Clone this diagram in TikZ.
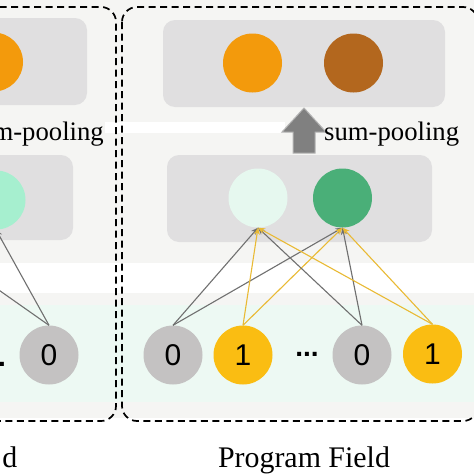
\documentclass[tikz,border=0pt]{standalone}
\usepackage{fontspec}
\setmainfont{Liberation Serif}
\newfontfamily\digitfont{Liberation Sans}
\usetikzlibrary{arrows.meta}
\definecolor{bggray}{HTML}{F5F5F3}
\definecolor{boxgray}{HTML}{E0DFE0}
\definecolor{mintband}{HTML}{EDF9F3}
\definecolor{orangec}{HTML}{F39A0C}
\definecolor{brownc}{HTML}{B3671E}
\definecolor{palemint}{HTML}{E6F8EF}
\definecolor{greenc}{HTML}{4AAF78}
\definecolor{leftmint}{HTML}{A6EFCF}
\definecolor{graycirc}{HTML}{C4C2C2}
\definecolor{yellowc}{HTML}{FABD12}
\definecolor{linegray}{HTML}{707070}
\definecolor{lineyellow}{HTML}{E9BA34}
\definecolor{arrowgray}{HTML}{808080}
\definecolor{arrowedge}{HTML}{B4B4B4}
\tikzset{
  circ/.style={circle, minimum size=59pt, inner sep=0pt, draw=none},
  digit/.style={circ, font=\digitfont\fontsize{30}{32}\selectfont},
  panelbox/.style={draw=black, line width=1.7pt, dash pattern=on 7pt off 4.5pt, rounded corners=15pt},
  grayrect/.style={fill=boxgray, rounded corners=12pt, draw=none},
  serifl/.style={font=\fontsize{26.7}{30}\selectfont, inner sep=0pt},
  titlel/.style={font=\fontsize{29.9}{32}\selectfont, inner sep=0pt},
  graylink/.style={draw=linegray, line width=1.1pt, -{Stealth[length=7pt,width=6pt]}},
  yellowlink/.style={draw=lineyellow, line width=1.1pt, -{Stealth[length=7pt,width=6pt]}},
}
\begin{document}
\begin{tikzpicture}[x=1pt,y=-1pt]
\useasboundingbox (0,0) rectangle (474,474);
\clip (0,0) rectangle (474,474);
% background bands
\fill[white] (0,0) rectangle (474,474);
\fill[bggray] (0,0) rectangle (474,263);
\fill[white] (105,122) rectangle (285,133);
\fill[white] (0,263) rectangle (474,293);
\fill[bggray] (0,293) rectangle (474,418);
\fill[mintband] (0,305) rectangle (474,402);
% gray inner boxes
\fill[grayrect] (-200,18) rectangle (87,105);
\fill[grayrect] (-200,155) rectangle (73,240);
\fill[grayrect] (163,20) rectangle (445,107);
\fill[grayrect] (167,155) rectangle (432,242);
% dashed panels
\draw[panelbox] (-200,7) rectangle (116,421);
\draw[panelbox] (122,7) rectangle (478,421);
% top circles
\node[circ, fill=orangec] (lorange) at (-6.5,62) {};
\node[circ, fill=orangec] (rorange) at (252.5,63) {};
\node[circ, fill=brownc] (rbrown) at (353.5,63) {};
% middle circles
\node[circ, fill=leftmint] (lmint) at (-4,200) {};
\node[circ, fill=palemint] (rmint) at (258,198) {};
\node[circ, fill=greenc] (rgreen) at (342.5,198) {};
% bottom circles
\node[digit, fill=graycirc] (lzero) at (49,355) {0};
\node[digit, fill=graycirc] (zeroa) at (173,355) {0};
\node[digit, fill=yellowc] (onea) at (243,355) {1};
\node[digit, fill=graycirc] (zerob) at (362,355) {0};
\node[digit, fill=yellowc] (oneb) at (432.5,354) {1};
\node[font=\digitfont\bfseries\fontsize{28}{30}\selectfont, inner sep=0pt, anchor=base east] (ldots) at (6,366) {.};
\node[font=\digitfont\bfseries\fontsize{28}{30}\selectfont, inner sep=0pt] (rdots) at (307,354) {...};
% left panel links
\coordinate (lfar) at (-88,229);
\draw[graylink] (lzero.north) -- (lmint.south);
\draw[graylink] (lzero.north) -- (lfar);
% right panel links
\draw[graylink] (zeroa.north) -- (rmint.south);
\draw[graylink] (zeroa.north) -- (rgreen.south);
\draw[yellowlink] (onea.north) -- (rmint.south);
\draw[yellowlink] (onea.north) -- (rgreen.south);
\draw[graylink] (zerob.north) -- (rmint.south);
\draw[graylink] (zerob.north) -- (rgreen.south);
\draw[yellowlink] (oneb.north) -- (rmint.south);
\draw[yellowlink] (oneb.north) -- (rgreen.south);
% block arrow
\filldraw[fill=arrowgray, draw=arrowedge, line width=1pt]
  (304,108) -- (326,132) -- (315,132) -- (315,153) -- (293,153) -- (293,132) -- (282,132) -- cycle;
% labels
\node[serifl, anchor=base west] (rsum) at (324,140) {sum-pooling};
\node[serifl, anchor=base east] (lsum) at (104,140) {m-pooling};
\node[titlel, anchor=base] (rtitle) at (304,467) {Program Field};
\node[titlel, anchor=base east] (ltitle) at (17.5,467) {d};
\end{tikzpicture}
\end{document}
